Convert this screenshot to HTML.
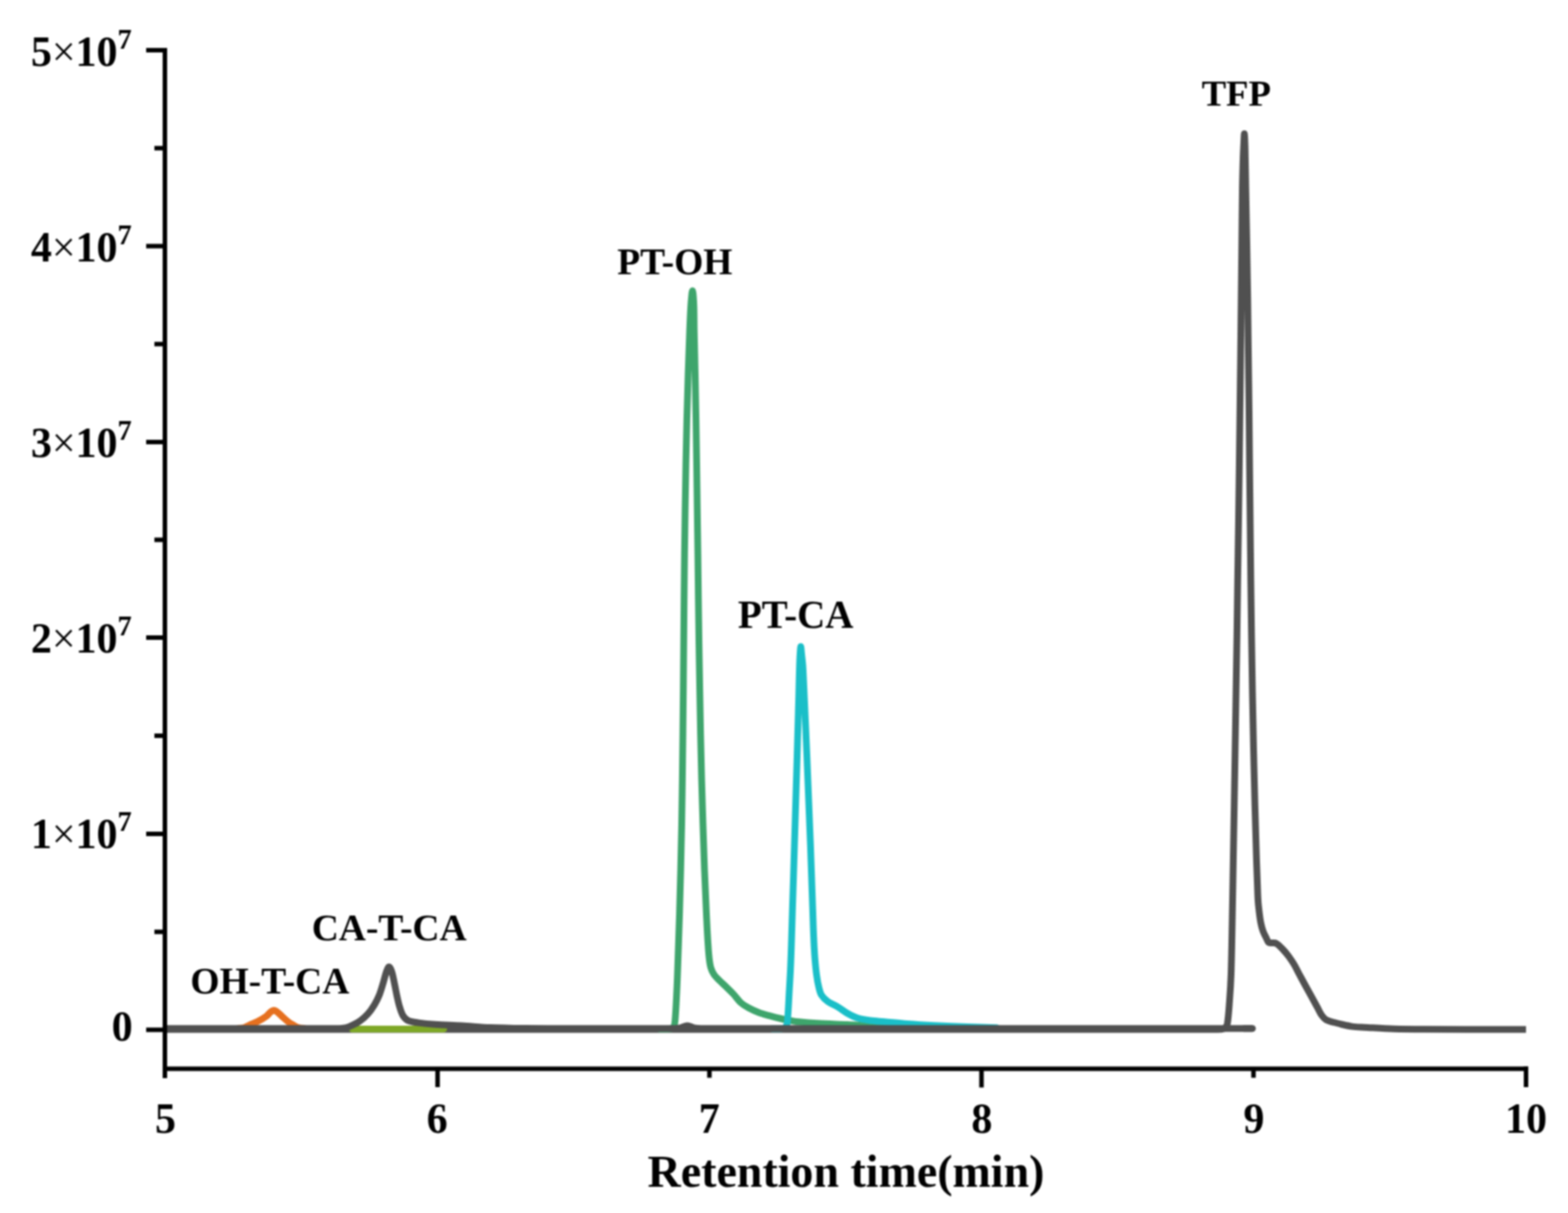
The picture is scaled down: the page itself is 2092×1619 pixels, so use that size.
<!DOCTYPE html>
<html><head><meta charset="utf-8"><title>Chromatogram</title>
<style>
html,body{margin:0;padding:0;background:#fff;}
body{width:2092px;height:1619px;overflow:hidden;}
svg{display:block;filter:blur(0.8px);}
text{font-family:"Liberation Serif","Times New Roman",serif;fill:#000;}
.b{font-weight:bold;}
</style></head>
<body>
<svg width="2092" height="1619" viewBox="0 0 2092 1619">
<rect width="2092" height="1619" fill="#fff"/>
<g fill="none" stroke-linejoin="round" stroke-linecap="round" stroke-width="9">
<path stroke="#505050" stroke-linecap="butt" d="M220.0,1373.9 C220.0,1373.9 1140.0,1373.9 1600.0,1373.9 C1610.0,1373.9 1620.1,1374.3 1630.0,1373.8 C1631.6,1373.7 1633.4,1373.1 1634.5,1372.0 C1636.0,1370.5 1637.2,1368.2 1637.6,1366.0 C1639.2,1355.9 1639.7,1345.3 1640.5,1335.0 C1641.4,1323.3 1642.1,1311.7 1642.5,1300.0 C1643.3,1275.0 1643.6,1250.0 1644.1,1225.0 C1644.6,1200.0 1645.0,1175.0 1645.4,1150.0 C1645.8,1125.0 1646.3,1100.0 1646.7,1075.0 C1647.1,1050.0 1647.5,1025.0 1647.9,1000.0 C1648.3,975.0 1648.7,950.0 1649.1,925.0 C1649.5,900.0 1649.9,875.0 1650.3,850.0 C1650.7,825.0 1651.0,800.0 1651.3,775.0 C1651.7,750.0 1652.0,725.0 1652.4,700.0 C1652.7,675.0 1653.1,650.0 1653.4,625.0 C1653.7,600.0 1654.0,575.0 1654.3,550.0 C1654.6,525.0 1654.9,500.0 1655.2,475.0 C1655.5,450.0 1655.7,425.0 1656.0,400.0 C1656.3,375.0 1656.5,350.0 1656.8,325.0 C1657.1,300.0 1657.2,275.0 1657.6,250.0 C1657.8,236.7 1658.2,223.3 1658.6,210.0 C1658.8,203.3 1659.2,196.7 1659.5,190.0 C1659.7,186.2 1660.0,178.5 1660.2,178.5 C1660.4,178.5 1660.8,186.2 1660.9,190.0 C1661.2,196.7 1661.3,203.3 1661.4,210.0 C1661.7,223.3 1661.9,236.7 1662.1,250.0 C1662.6,275.0 1663.1,300.0 1663.5,325.0 C1663.9,350.0 1664.3,375.0 1664.7,400.0 C1665.0,425.0 1665.3,450.0 1665.6,475.0 C1665.9,500.0 1666.2,525.0 1666.5,550.0 C1666.8,575.0 1667.0,600.0 1667.2,625.0 C1667.5,650.0 1667.7,675.0 1668.0,700.0 C1668.3,725.0 1668.5,750.0 1668.8,775.0 C1669.1,800.0 1669.4,825.0 1669.8,850.0 C1670.2,875.0 1670.6,900.0 1671.0,925.0 C1671.5,950.0 1672.0,975.0 1672.5,1000.0 C1673.1,1025.0 1673.6,1050.0 1674.3,1075.0 C1675.0,1100.0 1675.7,1125.0 1676.5,1150.0 C1676.8,1160.0 1677.2,1170.0 1677.6,1180.0 C1677.9,1187.3 1678.0,1194.7 1678.5,1202.0 C1678.8,1207.0 1679.4,1212.0 1680.0,1217.0 C1680.6,1222.0 1681.2,1227.1 1682.2,1232.0 C1682.9,1235.7 1683.9,1239.4 1685.2,1243.0 C1686.2,1245.8 1687.7,1248.4 1689.0,1251.0 C1690.2,1253.4 1690.9,1256.4 1692.6,1258.0 C1693.6,1258.9 1695.5,1258.3 1697.0,1258.5 C1699.0,1258.8 1701.3,1258.3 1703.0,1259.3 C1706.3,1261.3 1709.1,1264.6 1711.9,1267.5 C1714.6,1270.3 1717.0,1273.3 1719.3,1276.4 C1721.9,1280.0 1724.4,1283.7 1726.7,1287.5 C1729.0,1291.4 1730.9,1295.5 1733.0,1299.5 C1735.8,1304.7 1738.6,1309.8 1741.4,1315.0 C1744.4,1320.5 1747.5,1326.0 1750.5,1331.5 C1752.9,1335.8 1755.2,1340.2 1757.6,1344.5 C1759.6,1348.1 1761.2,1352.0 1763.5,1355.3 C1765.1,1357.5 1767.0,1359.7 1769.3,1361.1 C1772.0,1362.7 1775.3,1363.4 1778.4,1364.3 C1782.6,1365.5 1787.0,1366.5 1791.3,1367.5 C1795.6,1368.5 1799.9,1369.5 1804.3,1370.1 C1809.5,1370.8 1814.8,1370.9 1820.0,1371.2 C1833.3,1371.9 1846.7,1372.8 1860.0,1373.2 C1873.3,1373.6 1886.7,1373.7 1900.0,1373.8 C1945.3,1374.0 2036.0,1373.9 2036.0,1373.9"/>
<path stroke="#7ea826" d="M470.0,1373.6 C470.0,1373.6 503.3,1373.6 520.0,1373.6 C533.3,1373.6 546.7,1373.5 560.0,1373.5 C570.7,1373.5 592.0,1373.4 592.0,1373.4"/>
<path stroke="#e6701f" d="M318.0,1372.5 C318.0,1372.5 323.5,1372.3 326.0,1371.5 C328.5,1370.8 330.6,1369.1 333.0,1368.0 C336.5,1366.4 340.1,1365.3 343.5,1363.5 C347.6,1361.4 351.7,1359.0 355.4,1356.3 C357.5,1354.8 359.0,1352.4 361.0,1350.8 C362.3,1349.8 364.0,1348.5 365.5,1348.5 C367.0,1348.5 368.7,1349.8 370.0,1350.8 C372.2,1352.4 374.0,1354.5 376.0,1356.3 C378.7,1358.7 381.3,1361.3 384.1,1363.5 C386.3,1365.2 388.6,1366.6 391.0,1368.0 C393.3,1369.3 395.5,1370.8 398.0,1371.5 C400.5,1372.3 406.0,1372.5 406.0,1372.5"/>
<path stroke="#3ea56c" d="M880.0,1373.5 C880.0,1373.5 890.1,1373.7 895.0,1373.0 C896.3,1372.8 897.8,1372.1 898.5,1371.0 C899.7,1369.1 900.3,1366.4 900.5,1364.0 C901.8,1350.1 902.3,1336.0 903.0,1322.0 C903.7,1308.0 904.1,1294.0 904.6,1280.0 C905.3,1260.0 906.0,1240.0 906.6,1220.0 C907.2,1200.0 907.7,1180.0 908.2,1160.0 C908.7,1140.0 909.1,1120.0 909.5,1100.0 C909.9,1080.0 910.1,1060.0 910.4,1040.0 C910.7,1020.0 910.9,1000.0 911.1,980.0 C911.3,960.0 911.5,940.0 911.7,920.0 C911.9,900.0 912.0,880.0 912.2,860.0 C912.4,840.0 912.5,820.0 912.7,800.0 C912.9,780.0 913.1,760.0 913.3,740.0 C913.5,720.0 913.8,700.0 914.1,680.0 C914.4,660.0 914.7,640.0 915.1,620.0 C915.5,600.0 915.9,580.0 916.4,560.0 C916.9,540.0 917.5,520.0 918.1,500.0 C918.7,480.0 919.4,460.0 920.2,440.0 C920.6,430.0 921.0,420.0 921.6,410.0 C921.9,405.0 922.3,400.0 922.8,395.0 C923.0,392.7 923.5,388.0 923.9,388.0 C924.3,388.0 924.8,392.6 925.0,395.0 C925.4,400.0 925.7,405.0 925.8,410.0 C926.1,420.0 926.0,430.0 926.2,440.0 C926.6,460.0 927.1,480.0 927.5,500.0 C927.9,520.0 928.3,540.0 928.6,560.0 C928.9,580.0 929.2,600.0 929.5,620.0 C929.8,640.0 930.0,660.0 930.3,680.0 C930.6,700.0 930.8,720.0 931.1,740.0 C931.3,760.0 931.6,780.0 931.8,800.0 C932.1,820.0 932.3,840.0 932.6,860.0 C932.9,880.0 933.3,900.0 933.6,920.0 C934.0,940.0 934.3,960.0 934.7,980.0 C935.1,1000.0 935.6,1020.0 936.1,1040.0 C936.6,1060.0 937.3,1080.0 937.9,1100.0 C938.5,1120.0 939.1,1140.0 939.9,1160.0 C940.7,1180.0 941.6,1200.0 942.5,1220.0 C943.1,1232.0 943.6,1244.0 944.4,1256.0 C944.9,1263.7 945.3,1271.4 946.2,1279.0 C946.7,1283.4 947.2,1287.8 948.5,1292.0 C949.4,1295.2 951.0,1298.3 952.8,1301.0 C954.7,1303.7 957.2,1306.0 959.6,1308.4 C962.4,1311.2 965.4,1313.8 968.2,1316.5 C971.7,1320.0 975.3,1323.4 978.7,1327.0 C982.0,1330.6 984.7,1334.9 988.3,1338.2 C991.4,1341.0 995.2,1343.3 998.9,1345.3 C1003.4,1347.8 1008.2,1349.9 1013.1,1351.7 C1017.7,1353.4 1022.5,1354.6 1027.3,1355.9 C1032.0,1357.2 1036.7,1358.4 1041.5,1359.5 C1046.2,1360.6 1051.0,1361.4 1055.7,1362.3 C1058.8,1362.9 1061.9,1363.5 1065.0,1363.8 C1073.3,1364.6 1081.7,1365.3 1090.0,1365.8 C1103.3,1366.6 1116.7,1366.9 1130.0,1367.5 C1143.3,1368.1 1156.7,1369.0 1170.0,1369.5 C1190.0,1370.3 1210.0,1371.1 1230.0,1371.5 C1256.7,1372.1 1310.0,1372.5 1310.0,1372.5"/>
<path stroke="#1abfc8" d="M1030.0,1373.0 C1030.0,1373.0 1040.1,1373.2 1045.0,1372.5 C1046.3,1372.3 1047.8,1371.6 1048.5,1370.5 C1049.7,1368.7 1050.3,1366.2 1050.5,1364.0 C1051.9,1349.4 1052.3,1334.7 1053.2,1320.0 C1053.8,1310.0 1054.4,1300.0 1054.8,1290.0 C1055.4,1276.7 1055.8,1263.3 1056.2,1250.0 C1056.6,1236.7 1057.0,1223.3 1057.4,1210.0 C1057.8,1196.7 1058.3,1183.3 1058.7,1170.0 C1059.1,1156.7 1059.5,1143.3 1059.9,1130.0 C1060.3,1116.7 1060.7,1103.3 1061.1,1090.0 C1061.5,1076.7 1061.9,1063.3 1062.3,1050.0 C1062.7,1036.7 1063.1,1023.3 1063.5,1010.0 C1063.9,996.7 1064.2,983.3 1064.6,970.0 C1065.0,956.7 1065.3,943.3 1065.7,930.0 C1066.0,916.7 1066.3,903.3 1066.7,890.0 C1066.9,884.0 1067.1,878.0 1067.5,872.0 C1067.7,869.0 1068.1,863.0 1068.4,863.0 C1068.7,863.0 1069.1,869.0 1069.4,872.0 C1070.0,878.0 1070.8,884.0 1071.2,890.0 C1072.0,903.3 1072.5,916.7 1073.1,930.0 C1073.7,943.3 1074.3,956.7 1074.9,970.0 C1075.5,983.3 1076.0,996.7 1076.6,1010.0 C1077.1,1023.3 1077.7,1036.7 1078.2,1050.0 C1078.7,1063.3 1079.3,1076.7 1079.8,1090.0 C1080.3,1103.3 1080.9,1116.7 1081.4,1130.0 C1081.9,1143.3 1082.3,1156.7 1082.8,1170.0 C1083.3,1183.3 1083.7,1196.7 1084.2,1210.0 C1084.7,1223.3 1085.0,1236.7 1085.6,1250.0 C1086.0,1260.0 1086.5,1270.0 1087.3,1280.0 C1087.9,1287.3 1088.6,1294.7 1089.6,1302.0 C1090.3,1307.3 1091.2,1312.7 1092.5,1317.9 C1093.4,1321.4 1094.1,1325.2 1096.0,1328.2 C1098.1,1331.6 1101.3,1334.5 1104.6,1336.9 C1108.5,1339.7 1113.4,1341.3 1117.6,1343.8 C1122.1,1346.5 1126.1,1349.9 1130.6,1352.5 C1134.7,1354.8 1139.0,1357.1 1143.5,1358.5 C1149.1,1360.3 1155.0,1361.2 1160.8,1362.0 C1167.2,1362.9 1173.6,1363.1 1180.0,1363.7 C1190.0,1364.6 1200.0,1365.8 1210.0,1366.5 C1222.3,1367.4 1234.6,1368.1 1246.9,1368.7 C1261.3,1369.4 1275.6,1370.0 1290.0,1370.5 C1303.3,1371.0 1330.0,1371.8 1330.0,1371.8"/>
<path stroke="#505050" stroke-linecap="butt" d="M220.0,1372.7 C220.0,1372.7 366.7,1372.7 440.0,1372.7 C444.0,1372.7 448.0,1372.9 452.0,1372.7 C455.3,1372.5 458.8,1372.4 462.0,1371.6 C464.8,1370.9 467.6,1369.6 470.2,1368.3 C473.7,1366.6 477.3,1364.9 480.4,1362.6 C484.1,1360.0 487.6,1357.0 490.6,1353.6 C493.9,1349.9 496.8,1345.6 499.4,1341.3 C502.0,1337.0 504.3,1332.4 506.2,1327.7 C508.4,1322.2 509.9,1316.5 511.6,1310.8 C513.0,1306.1 514.0,1301.1 515.7,1296.5 C516.5,1294.4 517.9,1290.5 519.0,1290.5 C520.2,1290.5 521.9,1294.3 522.6,1296.5 C524.4,1302.2 525.3,1308.3 526.6,1314.2 C527.8,1319.8 528.7,1325.5 530.0,1331.1 C531.0,1335.7 532.0,1340.3 533.4,1344.7 C534.7,1348.7 535.9,1352.9 538.1,1356.3 C539.7,1358.8 542.2,1361.2 544.9,1362.4 C549.0,1364.2 553.9,1364.5 558.5,1365.1 C565.6,1366.1 572.8,1366.8 580.0,1367.3 C592.0,1368.1 604.0,1368.3 616.0,1369.0 C628.7,1369.7 641.3,1371.0 654.0,1371.5 C669.3,1372.2 684.7,1372.4 700.0,1372.6 C720.0,1372.8 740.0,1372.7 760.0,1372.7 C806.7,1372.7 853.3,1373.0 900.0,1372.7 C902.7,1372.7 905.4,1372.4 908.0,1371.8 C911.1,1371.1 914.0,1369.0 917.0,1369.0 C920.0,1369.0 922.9,1371.2 926.0,1371.8 C928.9,1372.4 932.0,1372.7 935.0,1372.7 C1023.3,1373.0 1111.7,1372.7 1200.0,1372.7 C1357.0,1372.7 1671.0,1372.7 1671.0,1372.7"/>
<path stroke="#505050" d="M1660,1372.7 L1671,1372.7"/>
</g>
<g stroke="#000" stroke-width="6" fill="none">
<path d="M220,64 L220,1439"/>
<path d="M217,1426.5 L2039,1426.5"/>
<path d="M195,67 H220 M195,328.5 H220 M195,590 H220 M195,851 H220 M195,1113 H220 M195,1374.4 H220"/>
<path d="M206,197.7 H220 M206,459.2 H220 M206,720.6 H220 M206,982 H220 M206,1243.8 H220"/>
<path d="M583.8,1426 V1451 M946.5,1426 V1438.5 M1309.5,1426 V1451.5 M1672.4,1426 V1438.5 M2036,1423.5 V1451"/>
</g>
<g font-size="56">
<text x="41.2" y="87.5"><tspan class="b">5</tspan>×<tspan class="b">10</tspan><tspan class="b" font-size="38" dy="-22.6">7</tspan></text>
<text x="41.2" y="348.8"><tspan class="b">4</tspan>×<tspan class="b">10</tspan><tspan class="b" font-size="38" dy="-22.6">7</tspan></text>
<text x="41.2" y="610"><tspan class="b">3</tspan>×<tspan class="b">10</tspan><tspan class="b" font-size="38" dy="-22.6">7</tspan></text>
<text x="41.2" y="870.5"><tspan class="b">2</tspan>×<tspan class="b">10</tspan><tspan class="b" font-size="38" dy="-22.6">7</tspan></text>
<text x="41.2" y="1132"><tspan class="b">1</tspan>×<tspan class="b">10</tspan><tspan class="b" font-size="38" dy="-22.6">7</tspan></text>
<text class="b" x="149" y="1389">0</text>
</g>
<g font-size="56" class="b" text-anchor="middle">
<text x="220.7" y="1512">5</text>
<text x="583.2" y="1512">6</text>
<text x="946.2" y="1512">7</text>
<text x="1310" y="1512">8</text>
<text x="1673" y="1512">9</text>
<text x="2036" y="1512">10</text>
</g>
<text class="b" font-size="61.3" x="864" y="1583.5">Retention time(min)</text>
<g font-size="50" class="b">
<text x="1603.2" y="140.5" font-size="49">TFP</text>
<text x="823.5" y="365.5">PT-OH</text>
<text x="984.5" y="838" font-size="52">PT-CA</text>
<text x="416" y="1255">CA-T-CA</text>
<text x="254" y="1325.8">OH-T-CA</text>
</g>
</svg>
</body></html>
